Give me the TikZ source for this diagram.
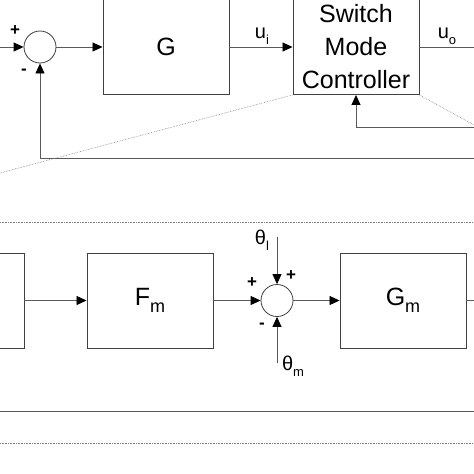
\documentclass[tikz,border=0pt]{standalone}
\usepackage{fontspec}
\setmainfont{Liberation Sans}
\usetikzlibrary{arrows.meta}

\tikzset{
  block/.style={draw=black!75, line width=0.9pt, minimum width=126pt, minimum height=95pt,
    inner sep=0pt, align=center, font=\fontsize{25}{33}\selectfont},
  sumnode/.style={draw=black!75, line width=0.8pt, circle, minimum size=32pt, inner sep=0pt},
  signal/.style={draw=black!65, line width=0.8pt},
  tip/.style={-{Triangle[length=10pt,width=9pt,color=black]}},
  guide/.style={draw=black!50, densely dotted, line width=0.6pt},
  siglabel/.style={font=\fontsize{20}{20}\selectfont, inner sep=0pt},
  sign/.style={font=\fontsize{17}{17}\selectfont\bfseries, inner sep=0pt},
}
\newcommand{\lowsub}[1]{\raisebox{-0.3em}{\fontsize{18}{18}\selectfont #1}}
\newcommand{\labsub}[1]{\raisebox{-0.3em}{\fontsize{13}{13}\selectfont #1}}

\begin{document}
\begin{tikzpicture}[x=1pt,y=-1pt]

\clip (0,0) rectangle (474,474);

\coordinate (input) at (0,47);
\coordinate (sum-top) at (40,47);
\coordinate (g-block) at (166,47);
\coordinate (smc-block) at (356,47);
\coordinate (output) at (474,47);
\coordinate (smc-feedback) at (474,127);
\coordinate (loop-feedback) at (474,158);
\coordinate (zoom-left) at (0,173);
\coordinate (zoom-right) at (474,125);

\coordinate (prev-block) at (-39,300.5);
\coordinate (fm-block) at (150,300.5);
\coordinate (sum-bottom) at (277,300.5);
\coordinate (gm-block) at (403,300.5);
\coordinate (theta-l) at (277,237);
\coordinate (theta-m) at (277,363);
\coordinate (gm-output) at (474,300.5);

% upper loop
\node [sumnode] (sum1) at (sum-top) {};
\node [block] (g) at (g-block) {G};
\node [block] (smc) at (smc-block) {Switch\\Mode\\Controller};

\draw [signal,tip] (input) -- (sum1);
\draw [signal,tip] (sum1) -- (g);
\draw [signal,tip] (g) -- (smc);
\draw [signal] (smc) -- (output);
\draw [signal,tip] (smc-feedback) -| (smc.south);
\draw [signal,tip] (loop-feedback) -| (sum1.south);

\node [sign] (plus1) at (15,31) {+};
\node [sign] (minus1) at (24,72) {-};
\node [siglabel] (ui) at (262,36) {u\labsub{i}};
\node [siglabel] (uo) at (447,36) {u\labsub{o}};

% zoom guides
\draw [guide] (smc.south west) -- (zoom-left);
\draw [guide] (smc.south east) -- (zoom-right);

% lower loop
\draw [guide] (0,222) -- (474,222);
\draw [signal] (0,411) -- (474,411);
\draw [guide] (0,443) -- (474,443);

\node [block] (prev) at (prev-block) {};
\node [block] (fm) at (fm-block) {F\lowsub{m}};
\node [sumnode] (sum2) at (sum-bottom) {};
\node [block] (gm) at (gm-block) {G\lowsub{m}};

\draw [signal,tip] (prev) -- (fm);
\draw [signal,tip] (fm) -- (sum2);
\draw [signal,tip] (theta-l) -- (sum2.north);
\draw [signal,tip] (theta-m) -- (sum2.south);
\draw [signal,tip] (sum2) -- (gm);
\draw [signal] (gm) -- (gm-output);

\node [sign] (plus2) at (252,283) {+};
\node [sign] (plus3) at (291,276) {+};
\node [sign] (minus2) at (262,326) {-};
\node [siglabel] (tl) at (262,240) {θ\labsub{l}};
\node [siglabel] (tm) at (293,366) {θ\labsub{m}};

\end{tikzpicture}
\end{document}
